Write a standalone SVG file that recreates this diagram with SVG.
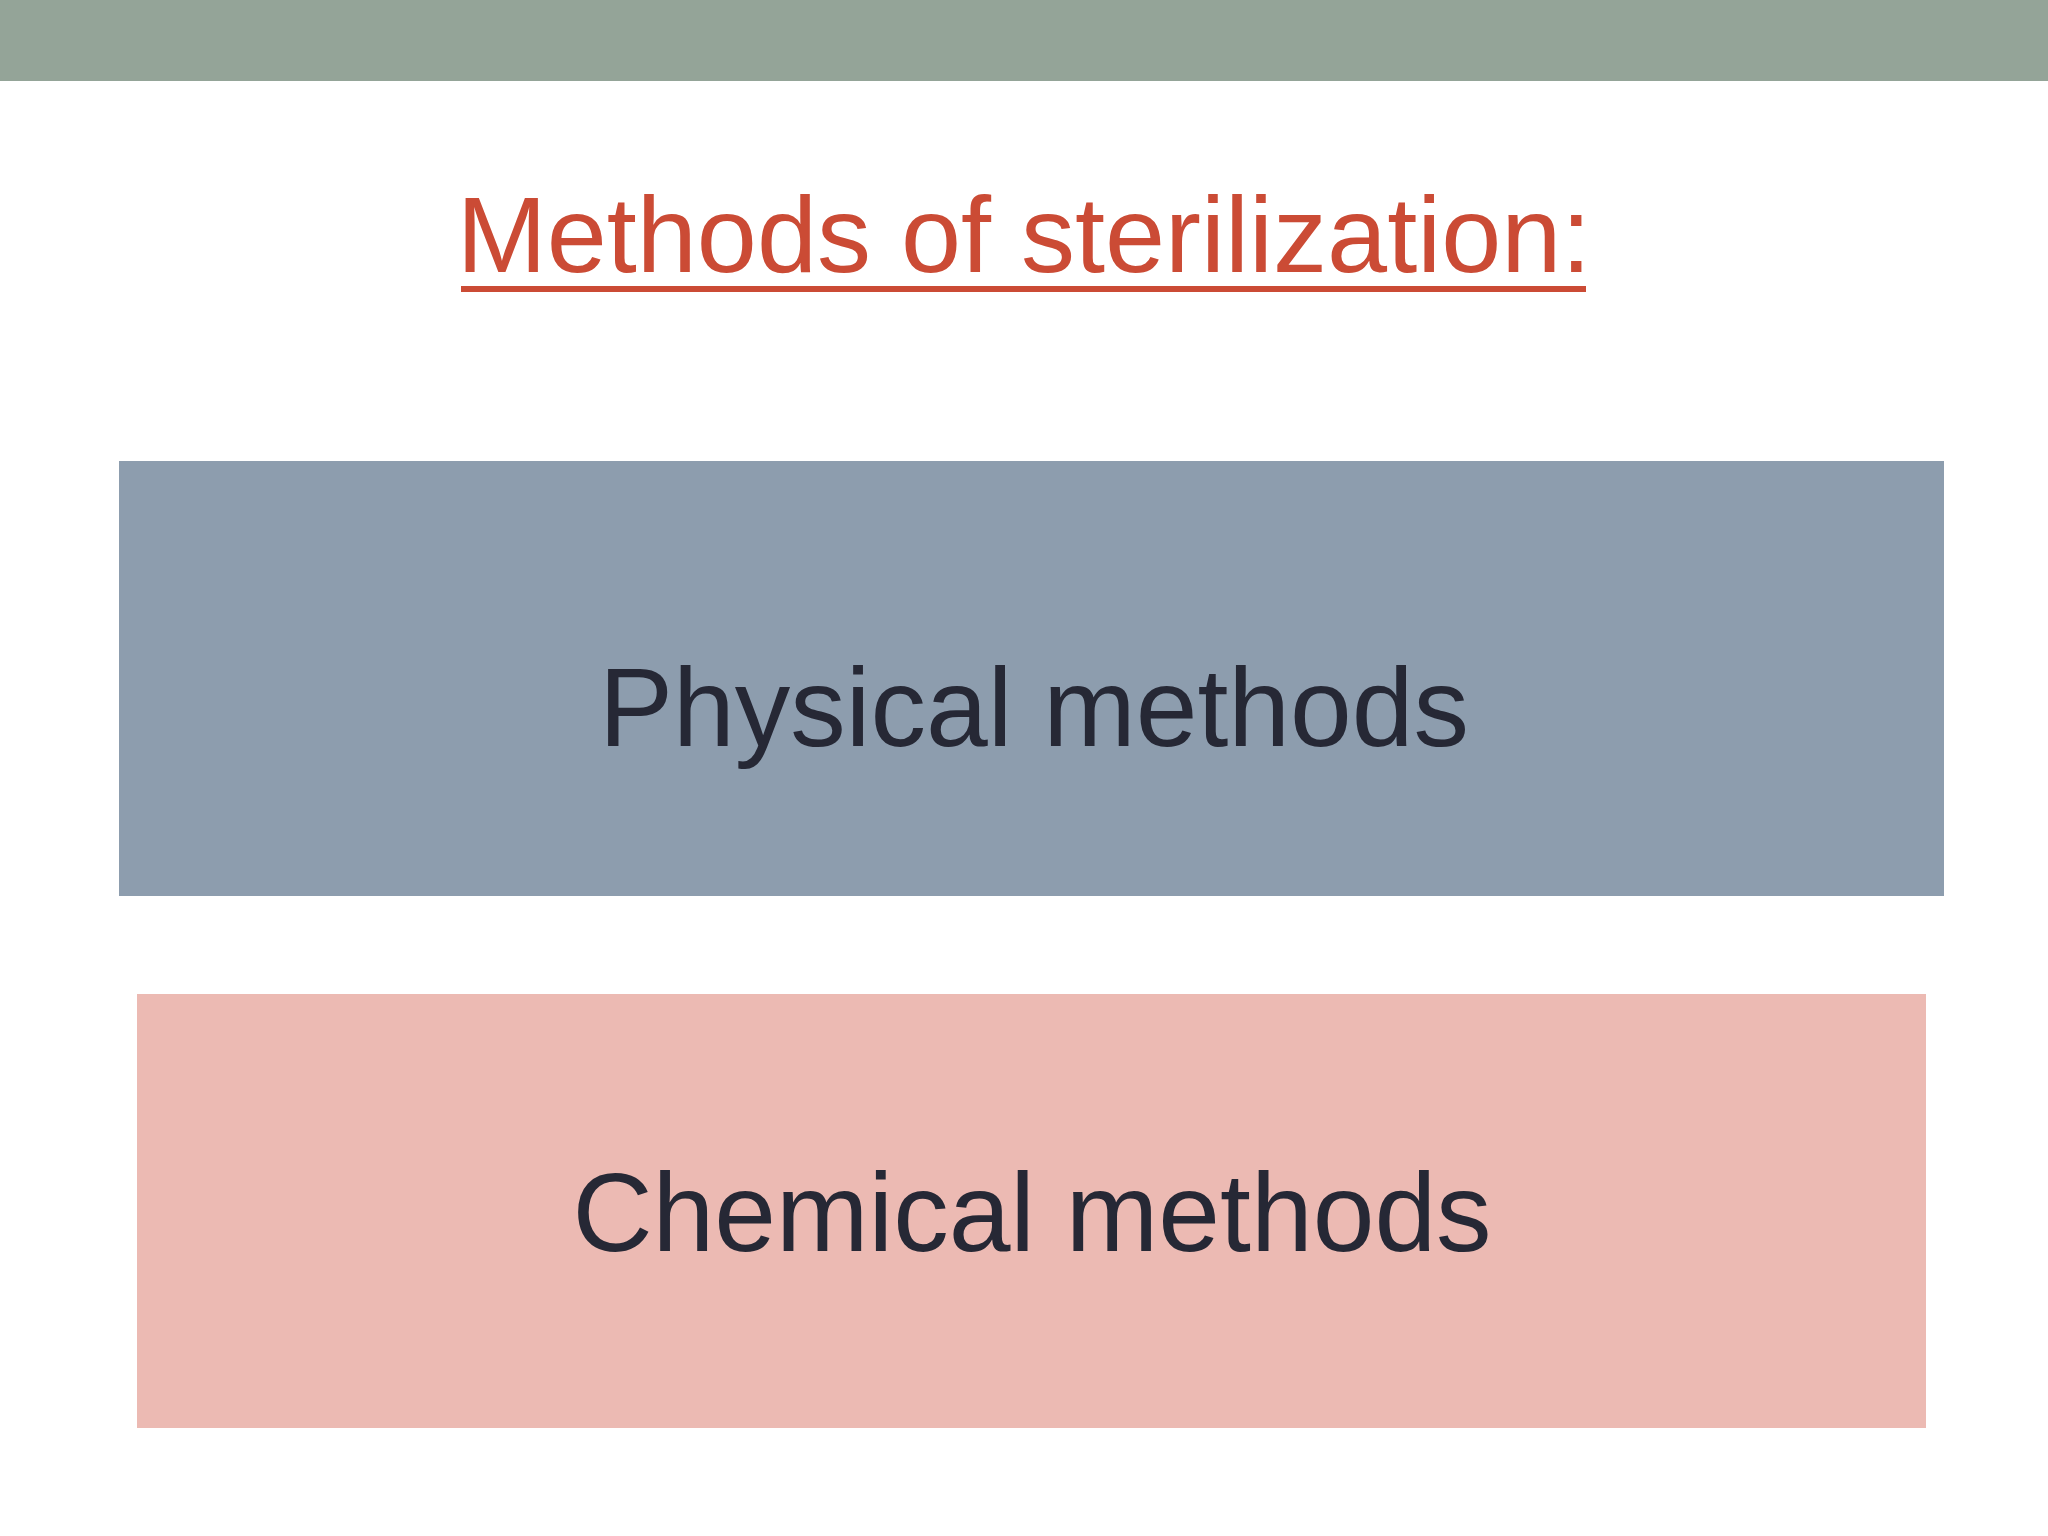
<svg xmlns="http://www.w3.org/2000/svg" width="2048" height="1536" viewBox="0 0 2048 1536">
<style>
.t{font-family:"Liberation Sans",Arial,sans-serif;text-anchor:middle;fill:#262835;font-size:111px}
</style>
<rect width="2048" height="1536" fill="#ffffff"/>
<rect x="0" y="0" width="2048" height="81" fill="#94A498"/>
<g id="title">
<text x="1024" y="272" style="font-family:'Liberation Sans',Arial,sans-serif;font-size:108px;fill:#CB4B35;text-anchor:middle">Methods of sterilization:</text>
<rect x="461" y="286" width="1125" height="6" fill="#CB4B35"/>
</g>
<g id="physical">
<rect x="119" y="461" width="1825" height="435" fill="#8D9DAE"/>
<text class="t" x="1034" y="746">Physical methods</text>
</g>
<g id="chemical">
<rect x="137" y="994" width="1789" height="434" fill="#ECBAB3"/>
<text class="t" x="1032" y="1251">Chemical methods</text>
</g>
<g id="connectors"/>
</svg>
